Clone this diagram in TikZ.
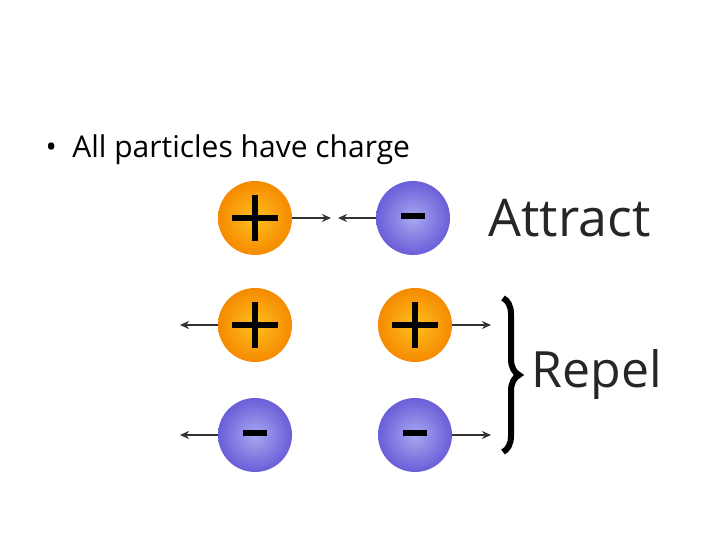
\documentclass[tikz,border=0pt]{standalone}
\usepackage{fontspec}
\setmainfont{Open Sans}
\usetikzlibrary{decorations.pathreplacing,arrows.meta}
\definecolor{bin}{HTML}{A8A8F0}
\definecolor{bout}{HTML}{6A5ED8}
\definecolor{oin}{HTML}{FFC020}
\definecolor{oout}{HTML}{F58A00}
\begin{document}
\begin{tikzpicture}[x=1pt,y=-1pt,
 posball/.style={circle,minimum size=74pt,inner sep=0pt,shading=radial,inner color=oin,outer color=oout},
 negball/.style={circle,minimum size=74pt,inner sep=0pt,shading=radial,inner color=bin,outer color=bout},
 bar/.style={line width=6.5pt},
 arr/.style={-{Stealth[length=9pt,width=8pt]},line width=1.5pt,draw=black!80}]
\useasboundingbox (0,0) rectangle (720,540);
\node[anchor=west,font=\fontsize{30}{34}\selectfont] (t) at (42,150) {\textbullet\ \ All particles have charge};
\node[posball] (a1) at (255,218) {}; \node[negball] (a2) at (413,218) {};
\node[posball] (b1) at (255,325) {}; \node[posball] (b2) at (415,325) {};
\node[negball] (c1) at (255,435) {}; \node[negball] (c2) at (415,435) {};
\foreach \n in {a1,b1,b2}{\draw[bar] ([xshift=-23pt]\n.center)--([xshift=23pt]\n.center) ([yshift=-23pt]\n.center)--([yshift=23pt]\n.center);}
\foreach \n in {a2,c1,c2}{\draw[bar] ([xshift=-12pt,yshift=2pt]\n.center)--([xshift=12pt,yshift=2pt]\n.center);}
\coordinate (p1) at (331,218); \coordinate (p2) at (338,218);
\coordinate (q1) at (180,325); \coordinate (q2) at (491,325);
\coordinate (r1) at (180,435); \coordinate (r2) at (491,435);
\draw[arr] (a1.east)--(p1); \draw[arr] (a2.west)--(p2);
\draw[arr] (b1.west)--(q1); \draw[arr] (b2.east)--(q2);
\draw[arr] (c1.west)--(r1); \draw[arr] (c2.east)--(r2);
\node[anchor=west,font=\fontsize{52}{60}\selectfont,text=black!85] (at) at (485,218) {Attract};
\coordinate (bt) at (503,298); \coordinate (bb) at (503,452);
\draw[line width=6pt,decorate,decoration={brace,amplitude=16pt}] (bt)--(bb);
\node[anchor=west,font=\fontsize{50}{60}\selectfont,text=black!85] (rp) at (528,375) {Repel};
\end{tikzpicture}
\end{document}
